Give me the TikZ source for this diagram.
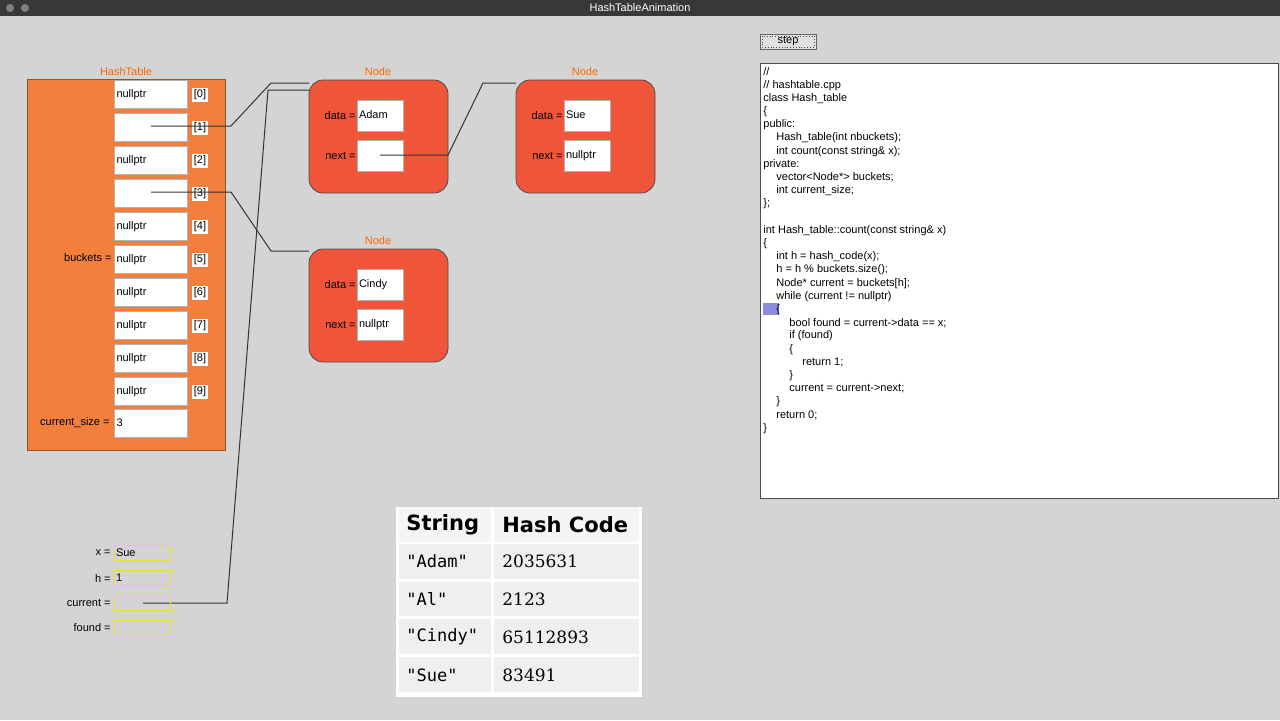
\documentclass[tikz,border=0pt]{standalone}
\usepackage{fontspec}
\setmainfont{Liberation Sans}
\newfontfamily\dvs{DejaVu Sans}
\newfontfamily\dvm{DejaVu Sans Mono}
\newfontfamily\dvser{DejaVu Serif}
\begin{document}
\begin{tikzpicture}[x=0.5pt,y=-0.5pt,
  lbl/.style={font=\fontsize{5.5}{6.6}\selectfont,inner sep=0pt},
  box/.style={draw=gray!60,fill=white,minimum width=36.5pt,minimum height=14pt,inner sep=1pt,text width=34pt,text height=4pt,text depth=1pt,align=left,font=\fontsize{5.5}{6.6}\selectfont},
  nbox/.style={draw=gray!60,fill=white,minimum width=22.5pt,minimum height=15.5pt,inner sep=1pt,text width=21pt,text height=4pt,text depth=1pt,align=left,font=\fontsize{5.5}{6.6}\selectfont},
  idx/.style={fill=white,inner sep=0.8pt,font=\fontsize{5.5}{6.6}\selectfont},
  vbox/.style={draw=yellow!80!gray,fill=none,minimum width=28pt,minimum height=7.5pt,inner sep=1pt,text width=26pt,text height=4pt,text depth=1pt,align=left,font=\fontsize{5.5}{6.6}\selectfont},
  ttl/.style={font=\fontsize{5.5}{6.6}\selectfont,text=orange!80!red,inner sep=0pt},
  node/.style={draw=black!70,fill=nodecol,rounded corners=7pt},
  wire/.style={draw=black!80,line width=0.5pt},
  code/.style={font=\fontsize{5.5}{6.5}\selectfont,anchor=west,inner sep=0pt}]
\definecolor{bg}{HTML}{D4D4D4}
\definecolor{htcol}{HTML}{F2803C}
\definecolor{nodecol}{HTML}{F0553A}
\definecolor{rowc}{HTML}{EFEFF1}
\fill[bg] (0,0) rectangle (1280,720);
\useasboundingbox (0,0) rectangle (1280,720);
% title bar
\fill[black!78] (0,0) rectangle (1280,16);
\node[font=\fontsize{5.5}{6.6}\selectfont,text=white!85] (title) at (640,8) {HashTableAnimation};
\fill[black!50] (10,8) circle (4); \fill[black!50] (25,8) circle (4);
% hash table
\node[ttl] (htl) at (126,72) {HashTable};
\draw[fill=htcol,draw=brown!70!black] (27,79) rectangle (225,450);
\foreach \i/\v in {0/nullptr,1/{},2/nullptr,3/{},4/nullptr,5/nullptr,6/nullptr,7/nullptr,8/nullptr,9/nullptr}{
  \node[box] (b\i) at (150.5,{94+33*\i}) {\v};
  \node[idx] (i\i) at (200,{95+33*\i}) {[\i]};
}
\node[lbl,anchor=east] (bl) at (112,258) {buckets =};
\node[box] (cs) at (150.5,423) {3};
\node[lbl,anchor=east] (csl) at (110,423) {current\_size =};
% nodes
\foreach \n/\x/\y/\d/\nx in {A/309/80/Adam/{},S/516/80/Sue/nullptr,C/309/249/Cindy/nullptr}{
  \draw[node] (\x,\y) rectangle ++(139,113);
  \node[ttl] (t\n) at (\x+69,\y-8) {Node};
  \node[nbox] (d\n) at (\x+71,\y+35.5) {\d};
  \node[nbox] (n\n) at (\x+71,\y+75.5) {\nx};
  \node[lbl,anchor=east] (dl\n) at (\x+47,\y+36) {data =};
  \node[lbl,anchor=east] (nl\n) at (\x+47,\y+76) {next =};
}
\coordinate (p1) at (151,126);
\coordinate (p3) at (151,192);
\coordinate (pn) at (380,155);
\coordinate (pc) at (143,603);
\draw[wire] (p1) -- (231,126) -- (271,83) -- (309,83);
\draw[wire] (p3) -- (231,192) -- (271,251) -- (309,251);
\draw[wire] (pn) -- (448,155) -- (483,83) -- (516,83);
\draw[wire] (pc) -- (227,603) -- (268,90) -- (309,90);
% variables
\foreach \k/\l/\v/\y in {x/x/Sue/553,h/h/1/578,c/current/{}/603,f/found/{}/628}{
  \node[vbox] (v\k) at (142,\y) {\v};
  \node[lbl,anchor=east] (vl\k) at (111,\y) {\l\ =};
}
% table
\fill[white] (396,507) rectangle (642,697);
\foreach \a/\b in {544/579,582/616,619/654,657/692}{
  \fill[rowc] (399,\a) rectangle (491,\b);
  \fill[rowc] (494,\a) rectangle (639,\b);
}
\fill[rowc!60!white] (399,507) rectangle (491,542);
\fill[rowc!60!white] (494,507) rectangle (639,542);
\node[font=\dvs\bfseries\fontsize{10.5}{12}\selectfont,anchor=west,inner sep=0pt] (th1) at (406,525) {String};
\node[font=\dvs\bfseries\fontsize{10.5}{12}\selectfont,anchor=west,inner sep=0pt] (th2) at (502,525) {Hash Code};
\foreach \s/\h/\y in {Adam/2035631/561,Al/2123/599,Cindy/65112893/637,Sue/83491/675}{
  \node[font=\dvm\fontsize{8.5}{10}\selectfont,anchor=west,inner sep=0pt] at (406,\y) {"\s"};
  \node[font=\dvser\fontsize{8.5}{10}\selectfont,anchor=west,inner sep=0pt] at (502,\y) {\h};
}
% step button
\draw[fill=black!12,draw=black!60] (760,34) rectangle (816,49);
\draw[densely dotted,black!70] (762,36) rectangle (814,47);
\node[font=\fontsize{5.5}{6.6}\selectfont,inner sep=0pt] (step) at (788,41.5) {step};
% code panel
\draw[fill=white,draw=black!70] (760,63) rectangle (1278,498);
\fill[black!30!blue!45] (763,303) rectangle (779,315);
\foreach \t/\ind [count=\n from 0] in {
  {//}/0,{//  hashtable.cpp}/0,{class Hash\_table}/0,{\{}/0,{public:}/0,
  {Hash\_table(int nbuckets);}/1,{int count(const string\& x);}/1,{private:}/0,
  {vector<Node*> buckets;}/1,{int current\_size;}/1,{\};}/0,{}/0,
  {int Hash\_table::count(const string\& x)}/0,{\{}/0,{int h = hash\_code(x);}/1,
  {h = h \% buckets.size();}/1,{Node* current = buckets[h];}/1,{while (current != nullptr)}/1,
  {\{}/1,{bool found = current->data == x;}/2,{if (found)}/2,{\{}/2,{return 1;}/3,
  {\}}/2,{current = current->next;}/2,{\}}/1,{return 0;}/1,{\}}/0}{
  \node[code] at ({763+13*\ind},{72+13.2*\n}) {\t};
}
\end{tikzpicture}
\end{document}
